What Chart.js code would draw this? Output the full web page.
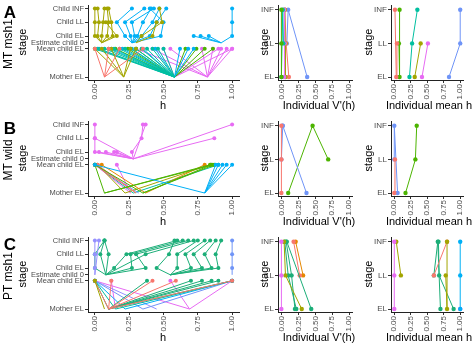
<!DOCTYPE html>
<html>
<head>
<meta charset="utf-8">
<script src="https://cdn.jsdelivr.net/npm/chart.js@4.4.1/dist/chart.umd.min.js"></script>
<style>
  body { margin: 0; background: #fff; font-family: "Liberation Sans", Arial, sans-serif; }
  #wrap { position: relative; width: 474px; height: 346px; overflow: hidden; }
  canvas { position: absolute; }
  .t { position: absolute; white-space: nowrap; color: #000; line-height: 1; }
  .ctr { transform: translate(-50%, -50%); }
  .rot { transform: translate(-50%, -50%) rotate(-90deg); }
</style>
</head>
<body>
<div id="wrap"></div>
<script>
// stage axes
const STAGES_LEFT = ['Mother EL', 'Mean child EL', 'Estimate child 0', 'Child EL', 'Child LL', 'Child INF'];
const STAGE_POS_LEFT = [0, 2, 2.42, 2.9, 3.88, 4.85];
const STAGES_RIGHT = ['EL', 'LL', 'INF'];
const STAGE_POS_RIGHT = [1, 2, 3];
const H_TICKS = [0, 0.25, 0.5, 0.75, 1];
const ROW_NAMES = ['MT msh1', 'MT wild', 'PT msh1'];
const LETTERS = ['A', 'B', 'C'];

// lineage id -> colour
const LINEAGE_COLORS = ['#000', '#F8766D', '#A3A500', '#4CB400', '#00BFA0', '#00B0F6',
  '#6F94F7', '#E76BF3', '#E58700', '#9590FF', '#1CAE78'];

// ---- row A : MT msh1 ----
// [lineage, mother EL h, mean child EL h ...]
const A_FANS = [
  [1, 0.07, 0.0, 0.1, 0.18, 0.35],
  [2, 0.21, 0.0, 0.05, 0.12, 0.26, 0.3],
  [4, 0.58, 0.0, 0.03, 0.07, 0.1, 0.14, 0.18, 0.22, 0.26, 0.3, 0.34, 0.38, 0.42, 0.46, 0.5],
  [5, 0.58, 0.02, 0.12, 0.2, 0.27, 0.35, 0.44, 0.62, 0.68, 0.72],
  [3, 0.58, 0.15, 0.24, 0.3, 0.66, 0.74, 0.8, 0.86],
  [7, 0.82, 0.3, 0.42, 0.55, 0.78, 0.86, 0.92, 0.96, 1.0],
  [7, 0.58, 0.5, 0.9, 1.0]
];
// [lineage, estimate child 0, child EL, child LL, child INF]
const A_KIDS = [
  [2, 0.05, 0.0, 0.0, 0.0],
  [2, 0.05, 0.02, 0.03, 0.02],
  [2, 0.05, 0.05, 0.06, 0.07],
  [2, 0.05, 0.09, 0.1, 0.09],
  [2, 0.05, 0.13, 0.12, 0.1],
  [2, 0.05, 0.16, 0.08, null],
  [2, 0.3, 0.34, 0.49, 0.47],
  [2, 0.3, 0.42, 0.45, null],
  [5, 0.27, 0.22, 0.16, 0.27],
  [5, 0.27, 0.26, 0.22, 0.36],
  [5, 0.27, 0.29, 0.27, 0.43],
  [5, 0.27, 0.31, 0.35, 0.41],
  [5, 0.27, 0.34, 0.42, 0.47],
  [5, 0.27, 0.4, 0.45, 0.52],
  [5, 0.27, 0.48, 0.5, 0.4],
  [5, 0.92, 0.72, null, null],
  [5, 0.92, 0.77, null, null],
  [5, 0.92, 0.83, null, null],
  [5, 0.92, 1.0, 1.0, 1.0]
];
// [lineage, EL, LL, INF]
const A_VH = [
  [3, 0.0, 0.0, 0.0],
  [4, 0.0, 0.03, 0.02],
  [7, 0.04, 0.05, 0.04],
  [2, 0.06, 0.06, 0.05],
  [1, 0.11, 0.07, 0.05],
  [6, 0.38, 0.08, 0.1]
];
const A_MEANH = [
  [1, 0.03, 0.04, 0.01],
  [3, 0.08, 0.07, 0.08],
  [4, 0.23, 0.27, 0.35],
  [2, 0.31, 0.4, null],
  [7, 0.42, 0.51, null],
  [6, 0.83, 1.0, 1.0]
];

// ---- row B : MT wild ----
const B_FANS = [
  [5, 0.8, 0.0, 0.88, 0.9, 0.93, 0.96, 1.0],
  [3, 0.07, 0.0, 0.84, 0.86],
  [3, 0.35, 0.0, 0.85, 0.87],
  [8, 0.37, 0.05, 0.8],
  [1, 0.3, 0.0, 0.02],
  [2, 0.22, 0.02, 0.84],
  [7, 0.26, 0.0, 0.16],
  [6, 0.32, 0.0],
  [4, 0.28, 0.0, 0.9]
];
const B_KIDS = [
  [7, 0.28, 0.0, 0.0, 0.0],
  [7, 0.28, 0.03, null, null],
  [7, 0.28, 0.08, null, null],
  [7, 0.28, 0.14, null, null],
  [7, 0.28, 0.16, null, null],
  [7, 0.28, null, 0.0, null],
  [7, 0.28, 0.27, 0.34, 0.35],
  [7, 0.28, null, null, 0.37],
  [7, 0.28, null, 0.87, null],
  [7, 0.28, null, null, 1.0]
];
const B_VH = [
  [1, 0.0, 0.0, 0.0],
  [6, null, 0.0, 0.02],
  [6, 0.37, null, 0.02],
  [3, 0.1, 0.69, 0.46]
];
const B_MEANH = [
  [1, 0.0, 0.01, null],
  [6, 0.05, 0.0, 0.0],
  [3, 0.17, 0.32, 0.34]
];

// ---- row C : PT msh1 ----
const C_FANS = [
  [2, 0.07, 0.0],
  [1, 0.1, 0.0, 0.12, 0.42, 0.59, 1.0],
  [10, 0.1, 0.0, 0.38, 0.7, 0.78, 0.85, 0.9, 1.0],
  [4, 0.15, 0.0, 1.0],
  [5, 0.22, 0.0, 1.0],
  [6, 0.35, 0.0, 1.0],
  [9, 0.45, 0.0],
  [7, 0.69, 0.0, 0.55, 1.0],
  [7, 0.15, 0.12]
];
const C_KIDS = [
  [9, 0.0, 0.0, 0.0, 0.0],
  [9, 0.0, null, null, 0.03],
  [10, 0.08, 0.0, 0.0, 0.07],
  [10, 0.08, null, 0.04, 0.07],
  [10, 0.08, null, 0.1, 0.07],
  [10, 0.08, 0.14, 0.23, 0.6],
  [10, 0.08, 0.27, 0.26, 0.64],
  [10, 0.08, 0.37, 0.3, 0.68],
  [10, 0.08, null, 0.37, 0.72],
  [10, 0.55, 0.45, 0.54, 0.58],
  [10, 0.55, 0.6, 0.6, 0.75],
  [10, 0.55, 0.7, 0.66, 0.8],
  [10, 0.55, 0.78, 0.72, 0.84],
  [10, 0.55, 0.85, 0.8, 0.88],
  [10, 0.55, 0.9, 0.88, 0.92],
  [6, 1.0, 1.0, 1.0, 1.0]
];
const C_VH = [
  [7, 0.0, 0.0, 0.0],
  [2, 0.3, 0.06, 0.04],
  [10, 0.2, 0.15, 0.07],
  [10, 0.22, 0.1, 0.05],
  [10, 0.44, null, 0.08],
  [1, null, 0.27, 0.18],
  [8, null, 0.32, 0.21]
];
const C_MEANH = [
  [7, 0.0, 0.0, 0.0],
  [2, null, 0.1, 0.03],
  [2, 0.8, 0.78, 0.8],
  [1, null, 0.6, 0.8],
  [10, 0.9, 0.68, 0.67],
  [10, 0.7, 0.6, 0.66],
  [5, 1.0, 1.0, 1.0],
  [7, 1.0, null, null]
];

const ROWS = [
  { fans: A_FANS, kids: A_KIDS, vh: A_VH, meanh: A_MEANH },
  { fans: B_FANS, kids: B_KIDS, vh: B_VH, meanh: B_MEANH },
  { fans: C_FANS, kids: C_KIDS, vh: C_VH, meanh: C_MEANH }
];

// layout
const ROW_TOP = [0, 116, 232];
const CANVAS_H = 100;
const PANELS = [
  { left: 14, width: 229, axisW: 74, padR: 4, ymin: -0.21, ymax: 5.06, pos: STAGE_POS_LEFT, labels: STAGES_LEFT,
    tickSize: 7.5, title: 'h', titleX: 163, stageX: 22 },
  { left: 250, width: 110, axisW: 28, padR: 2, ymin: 0.913, ymax: 3.116, pos: STAGE_POS_RIGHT, labels: STAGES_RIGHT,
    tickSize: 8, title: "Individual V'(h)", titleX: 319, stageX: 264 },
  { left: 363, width: 108, axisW: 28, padR: 2, ymin: 0.913, ymax: 3.116, pos: STAGE_POS_RIGHT, labels: STAGES_RIGHT,
    tickSize: 8, title: 'Individual mean h', titleX: 429, stageX: 368 }
];

function ds(lin, pts, rad) {
  const c = LINEAGE_COLORS[lin];
  return { data: pts, borderColor: c, backgroundColor: c, pointBackgroundColor: c,
    pointRadius: rad, pointBorderWidth: 0, borderWidth: 1, showLine: true, tension: 0 };
}

function fanSets(rows) {
  const out = [];
  rows.forEach(([lin, mother, ...means]) => {
    means.forEach(m => out.push(ds(lin, [{ x: mother, y: STAGE_POS_LEFT[0] }, { x: m, y: STAGE_POS_LEFT[1] }], [0, 2])));
  });
  return out;
}

function kidSets(rows) {
  return rows.map(([lin, ...hs]) => {
    const pts = [], rad = [];
    hs.forEach((h, i) => {
      if (h === null) return;
      pts.push({ x: h, y: STAGE_POS_LEFT[i + 2] });
      rad.push(i === 0 ? 0 : 2);
    });
    return ds(lin, pts, rad);
  });
}

// geom_line joins points in order of x
function stageSets(rows) {
  return rows.map(([lin, ...hs]) => {
    const pts = [];
    hs.forEach((h, i) => { if (h !== null) pts.push({ x: h, y: STAGE_POS_RIGHT[i] }); });
    pts.sort((a, b) => a.x - b.x);
    return ds(lin, pts, 2.2);
  });
}

const wrap = document.getElementById('wrap');

function addText(txt, x, y, cls, css) {
  const d = document.createElement('div');
  d.className = 't ' + cls;
  d.textContent = txt;
  d.style.left = x + 'px';
  d.style.top = y + 'px';
  Object.assign(d.style, css || {});
  wrap.appendChild(d);
}

function makeChart(p, top, datasets) {
  const cv = document.createElement('canvas');
  cv.width = p.width; cv.height = CANVAS_H;
  cv.style.left = p.left + 'px'; cv.style.top = top + 'px';
  cv.style.width = p.width + 'px'; cv.style.height = CANVAS_H + 'px';
  wrap.appendChild(cv);
  new Chart(cv.getContext('2d'), {
    type: 'scatter',
    data: { datasets },
    options: {
      responsive: false,
      animation: false,
      layout: { padding: { top: 4, right: p.padR, left: 0, bottom: 0 } },
      plugins: { legend: { display: false }, tooltip: { enabled: false } },
      scales: {
        x: {
          type: 'linear', min: -0.05, max: 1.05,
          afterBuildTicks: s => { s.ticks = H_TICKS.map(v => ({ value: v })); },
          afterFit: s => { s.height = 20; },
          ticks: { minRotation: 90, maxRotation: 90, autoSkip: false, padding: 1,
            color: '#4D4D4D', font: { size: 8, family: 'Liberation Sans' },
            callback: v => Number(v).toFixed(2) },
          grid: { drawOnChartArea: false, drawTicks: true, tickLength: 3, color: '#333' },
          border: { display: true, color: '#222', width: 1 }
        },
        y: {
          type: 'linear', min: p.ymin, max: p.ymax,
          afterBuildTicks: s => { s.ticks = p.pos.map(v => ({ value: v })); },
          afterFit: s => { s.width = p.axisW; },
          ticks: { autoSkip: false, padding: 1, color: '#4D4D4D', font: { size: p.tickSize, family: 'Liberation Sans' },
            callback: v => p.labels[p.pos.indexOf(v)] },
          grid: { drawOnChartArea: false, drawTicks: true, tickLength: 3, color: '#333' },
          border: { display: true, color: '#222', width: 1 }
        }
      }
    }
  });
}

ROWS.forEach((r, i) => {
  const top = ROW_TOP[i];
  makeChart(PANELS[0], top, fanSets(r.fans).concat(kidSets(r.kids)));
  makeChart(PANELS[1], top, stageSets(r.vh));
  makeChart(PANELS[2], top, stageSets(r.meanh));
  PANELS.forEach(p => {
    addText('stage', p.stageX, top + 42, 'rot', { fontSize: '11px' });
    addText(p.title, p.titleX, top + 105, 'ctr', { fontSize: '11px' });
  });
  addText(ROW_NAMES[i], 8, top + 44, 'rot', { fontSize: '12px' });
  addText(LETTERS[i], 10, top + 12, 'ctr', { fontSize: '17px', fontWeight: 'bold' });
});
</script>
</body>
</html>
